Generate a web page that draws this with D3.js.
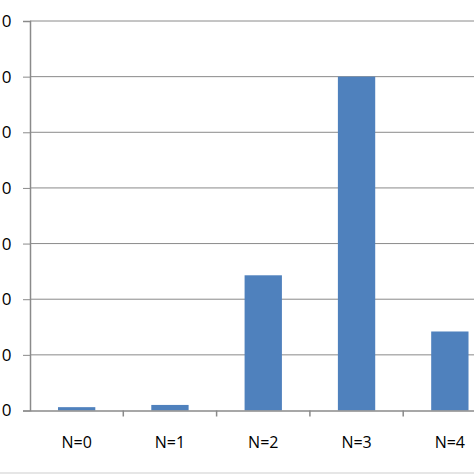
<!DOCTYPE html>
<html>
<head>
<meta charset="utf-8">
<script src="https://cdnjs.cloudflare.com/ajax/libs/d3/7.8.5/d3.min.js"></script>
<style>
  html, body { margin: 0; padding: 0; background: #fff; overflow: hidden; }
  svg { display: block; }
</style>
</head>
<body>
<svg id="chart"></svg>
<script>
// data
const categories = ["N=0", "N=1", "N=2", "N=3", "N=4"];
const values = [0.6, 1.0, 24.3, 60.0, 14.2];
const yTicks = [0, 10, 20, 30, 40, 50, 60, 70];

const width = 474, height = 474;
const svg = d3.select("#chart").attr("width", width).attr("height", height);

// plot area runs past the right edge (the picture is cropped)
const x = d3.scaleBand().domain(categories).range([30, 496.5]).padding(0);
const y = d3.scaleLinear().domain([0, 70]).range([410.5, 21]);

// gridlines
svg.append("g")
    .selectAll("line")
    .data(yTicks.slice(1))
    .join("line")
    .attr("x1", 30).attr("x2", width)
    .attr("y1", d => y(d)).attr("y2", d => y(d))
    .attr("stroke", "#8a8a8a")
    .attr("stroke-width", 1);

// bars
const bw = x.bandwidth() * 0.4;
svg.append("g")
    .selectAll("rect")
    .data(categories)
    .join("rect")
    .attr("x", d => x(d) + (x.bandwidth() - bw) / 2)
    .attr("y", (d, i) => y(values[i]))
    .attr("width", bw)
    .attr("height", (d, i) => y(0) - y(values[i]))
    .attr("fill", "#4f81bd");

// y axis, labels cropped at the left edge so only the last digit shows
const yAxis = svg.append("g")
    .attr("transform", "translate(30,0)")
    .call(d3.axisLeft(y).tickValues(yTicks).tickSize(7).tickFormat(d3.format("d")));
yAxis.select(".domain").attr("stroke", "#8a8a8a").attr("stroke-width", 1.5);
yAxis.selectAll(".tick line").attr("stroke", "#8a8a8a");
yAxis.selectAll(".tick text")
    .attr("x", -14.5)
    .attr("fill", "#000")
    .style("letter-spacing", "4px")
    .style("font", "17px 'Open Sans', sans-serif");

// x axis
const xAxis = svg.append("g")
    .attr("transform", `translate(0,${y(0)})`)
    .call(d3.axisBottom(x).tickSize(0));
xAxis.select(".domain").attr("stroke", "#8a8a8a").attr("stroke-width", 1.5);
xAxis.selectAll(".tick text")
    .attr("y", 37).attr("dy", null)
    .attr("fill", "#000")
    .style("font", "16px 'Open Sans', sans-serif");

// tick marks between categories
svg.append("g")
    .selectAll("line")
    .data(categories.slice(1))
    .join("line")
    .attr("x1", d => x(d)).attr("x2", d => x(d))
    .attr("y1", y(0)).attr("y2", y(0) + 6)
    .attr("stroke", "#8a8a8a")
    .attr("stroke-width", 1.5);

// thin grey strip along the bottom edge
svg.append("rect")
    .attr("x", 0).attr("y", 472)
    .attr("width", width).attr("height", 2)
    .attr("fill", "#e6e6e6");
</script>
</body>
</html>
